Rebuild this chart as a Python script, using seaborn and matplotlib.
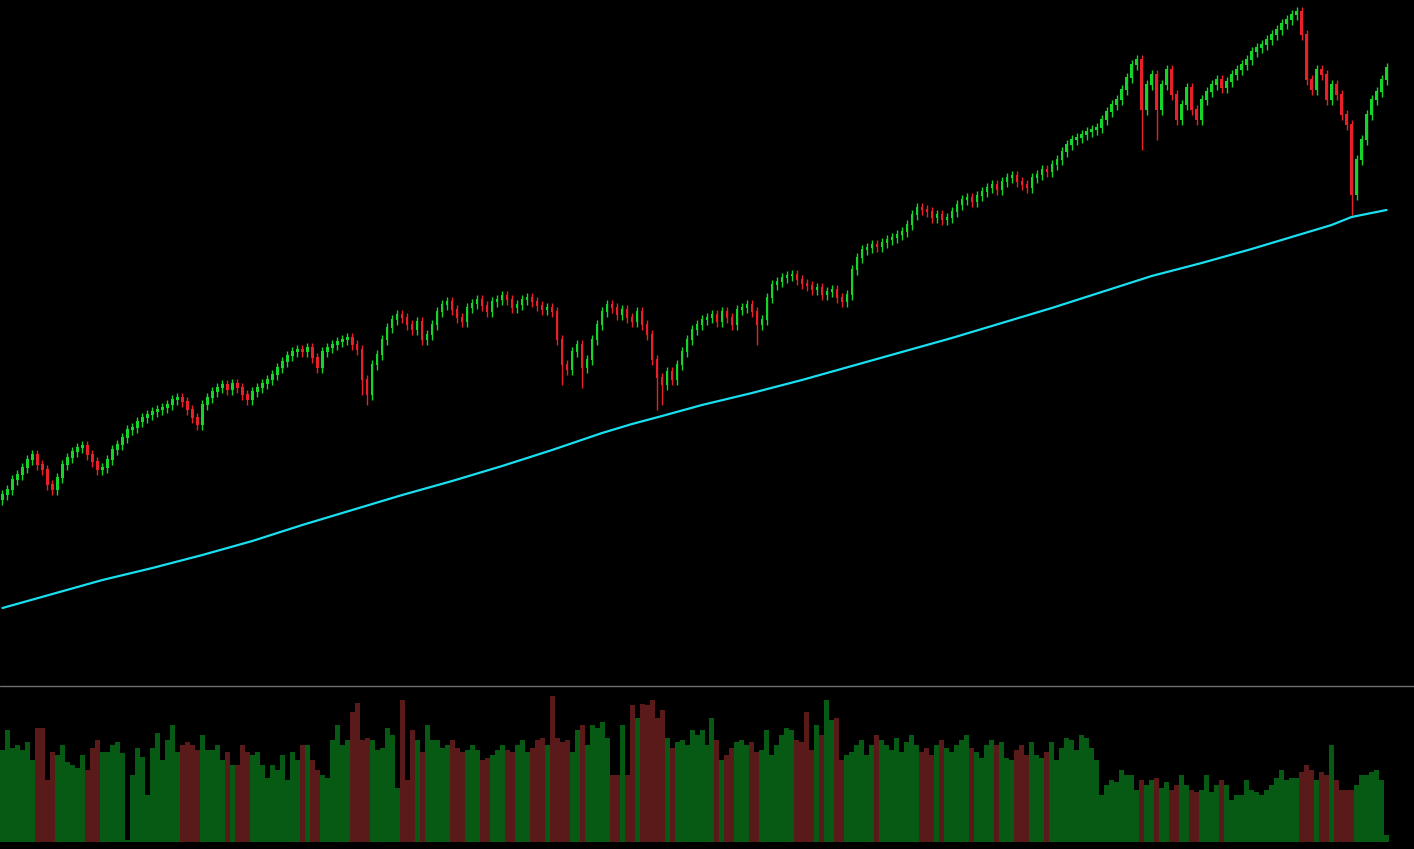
import numpy as np
import pandas as pd
import matplotlib
matplotlib.use("Agg")
import matplotlib.pyplot as plt
import seaborn as sns

# closes, read as pixel rows from the picture (price = 850 - row)
close_rows = [
    495, 490, 480, 475, 468, 460, 455, 465, 470, 485,
    490, 478, 465, 458, 452, 448, 446, 455, 462, 470,
    468, 460, 450, 445, 438, 430, 428, 422, 418, 415,
    412, 410, 408, 405, 400, 398, 402, 410, 418, 425,
    405, 398, 392, 388, 385, 390, 384, 388, 395, 400,
    392, 388, 384, 380, 375, 368, 362, 356, 352, 350,
    352, 348, 358, 368, 352, 348, 345, 342, 340, 338,
    345, 350, 380, 395, 365, 355, 340, 328, 320, 315,
    318, 325, 330, 322, 340, 335, 325, 312, 305, 302,
    310, 318, 322, 308, 304, 300, 306, 312, 302, 300,
    296, 300, 308, 305, 300, 298, 302, 306, 310, 308,
    312, 340, 365, 370, 352, 345, 368, 360, 340, 325,
    312, 305, 308, 315, 310, 318, 322, 312, 325, 335,
    360, 378, 385, 372, 380, 365, 352, 340, 330, 325,
    320, 318, 315, 322, 312, 318, 325, 310, 308, 305,
    312, 325, 320, 298, 285, 282, 278, 276, 275, 280,
    284, 286, 290, 288, 295, 292, 290, 298, 302, 295,
    270, 258, 250, 248, 245, 247, 243, 240, 238, 235,
    232, 225, 215, 208, 210, 212, 218, 215, 220, 218,
    212, 205, 200, 198, 202, 196, 192, 188, 185, 190,
    182, 178, 176, 182, 185, 188, 178, 175, 170, 172,
    165, 160, 152, 145, 140, 138, 135, 132, 130, 128,
    120, 112, 105, 100, 90, 78, 65, 60, 110, 85,
    75, 110, 85, 70, 95, 120, 105, 88, 110, 120,
    100, 92, 85, 80, 88, 82, 75, 70, 65, 60,
    52, 48, 45, 40, 35, 30, 24, 20, 15, 12,
    35, 80, 90, 70, 75, 100, 85, 95, 115, 125,
    195, 160, 140, 115, 100, 92, 80, 68,
]

# notable long wicks: candle index -> low row
spike_idx = [72, 73, 112, 116, 131, 132, 151, 228, 231, 270]
spike_low_rows = [395, 405, 385, 388, 410, 405, 345, 150, 140, 215]

# moving average anchors (candle index, row)
ma_idx = [0, 10, 20, 30, 40, 50, 60, 70, 80, 90, 100, 110, 120, 126, 132, 140,
          150, 160, 170, 180, 190, 200, 210, 220, 230, 240, 250, 260, 266, 270, 277]
ma_rows = [608, 594, 580, 568, 555, 541, 525, 510, 495, 481, 466, 450, 433, 424, 416, 405,
           393, 380, 366, 352, 338, 323, 308, 292, 276, 263, 249, 234, 225, 217, 210]

# volume bar tops as pixel rows (baseline 842)
vol_rows = [
    750, 730, 748, 745, 750, 742, 760, 728, 728, 780,
    752, 755, 745, 762, 765, 768, 755, 770, 748, 740,
    752, 752, 745, 742, 753, 840, 775, 748, 757, 795,
    748, 733, 760, 740, 725, 752, 745, 742, 745, 750,
    735, 750, 750, 745, 760, 752, 765, 765, 745, 752,
    755, 752, 765, 778, 765, 770, 755, 780, 752, 760,
    745, 745, 760, 770, 775, 778, 740, 725, 745, 740,
    712, 703, 740, 738, 740, 750, 748, 728, 735, 788,
    700, 780, 730, 740, 752, 725, 740, 740, 748, 745,
    740, 748, 752, 750, 745, 750, 760, 758, 755, 750,
    745, 750, 752, 745, 740, 752, 748, 740, 738, 745,
    696, 738, 742, 740, 752, 730, 725, 745, 725, 728,
    722, 738, 775, 775, 725, 775, 705, 718, 704, 705,
    700, 718, 710, 738, 748, 742, 740, 745, 730, 735,
    730, 745, 718, 740, 760, 755, 748, 742, 740, 745,
    742, 752, 750, 730, 755, 745, 735, 728, 730, 740,
    742, 712, 750, 725, 735, 700, 720, 718, 760, 755,
    752, 745, 740, 755, 745, 735, 740, 745, 750, 738,
    752, 742, 735, 745, 752, 748, 755, 745, 740, 748,
    752, 745, 740, 735, 748, 752, 758, 745, 740, 745,
    742, 758, 760, 750, 745, 755, 742, 755, 758, 752,
    742, 760, 748, 738, 740, 750, 735, 738, 748, 760,
    795, 785, 780, 782, 770, 775, 775, 790, 780, 785,
    780, 778, 788, 782, 790, 785, 775, 785, 790, 792,
    790, 775, 792, 785, 780, 785, 800, 795, 795, 780,
    790, 792, 795, 790, 785, 778, 770, 780, 778, 778,
    772, 765, 770, 780, 772, 775, 745, 780, 790, 790,
    790, 785, 775, 775, 772, 770, 780, 835,
]

n = len(close_rows)
idx = np.arange(n)
close = 850 - np.array(close_rows, dtype=float)
opn = np.concatenate([[close[0] - 5], close[:-1]])
high = np.maximum(opn, close) + 5
low = np.minimum(opn, close) - 5
for i, r in zip(spike_idx, spike_low_rows):
    low[i] = 850 - r
up = close >= opn

sns.set_style("dark")
fig = plt.figure(figsize=(14.14, 8.49), dpi=100)
fig.patch.set_facecolor("black")

ax = fig.add_axes([0, 1 - 685 / 849, 1, 685 / 849])
axv = fig.add_axes([0, 1 - 842 / 849, 1, 154 / 849])
for a in (ax, axv):
    a.set_facecolor("black")
    a.set_axis_off()

green, red = "#17d42a", "#e8202a"
cols = np.where(up, green, red)
ax.vlines(idx, low, high, colors=cols, linewidth=1)
ax.bar(idx, np.abs(close - opn) + 0.8, bottom=np.minimum(close, opn), width=0.5,
       color=cols, linewidth=0)

ma_df = pd.DataFrame({"i": ma_idx, "ma": 850 - np.array(ma_rows, dtype=float)})
sns.lineplot(data=ma_df, x="i", y="ma", ax=ax, color="#19e0f0", linewidth=1.6)
ax.set_xlim(-0.5, 282.5)
ax.set_ylim(850 - 685, 850)
ax.set_axis_off()

vol = 842 - np.array(vol_rows, dtype=float)
vcols = np.where(up, "#075a14", "#5a1a1a")
axv.bar(idx, vol, width=1.0, color=vcols, linewidth=0)
axv.set_xlim(-0.5, 282.5)
axv.set_ylim(0, 154)

fig.add_artist(plt.Line2D([0, 1], [1 - 686 / 849] * 2, color="#707070", linewidth=1))
fig.savefig("out.png", dpi=100, facecolor="black")
